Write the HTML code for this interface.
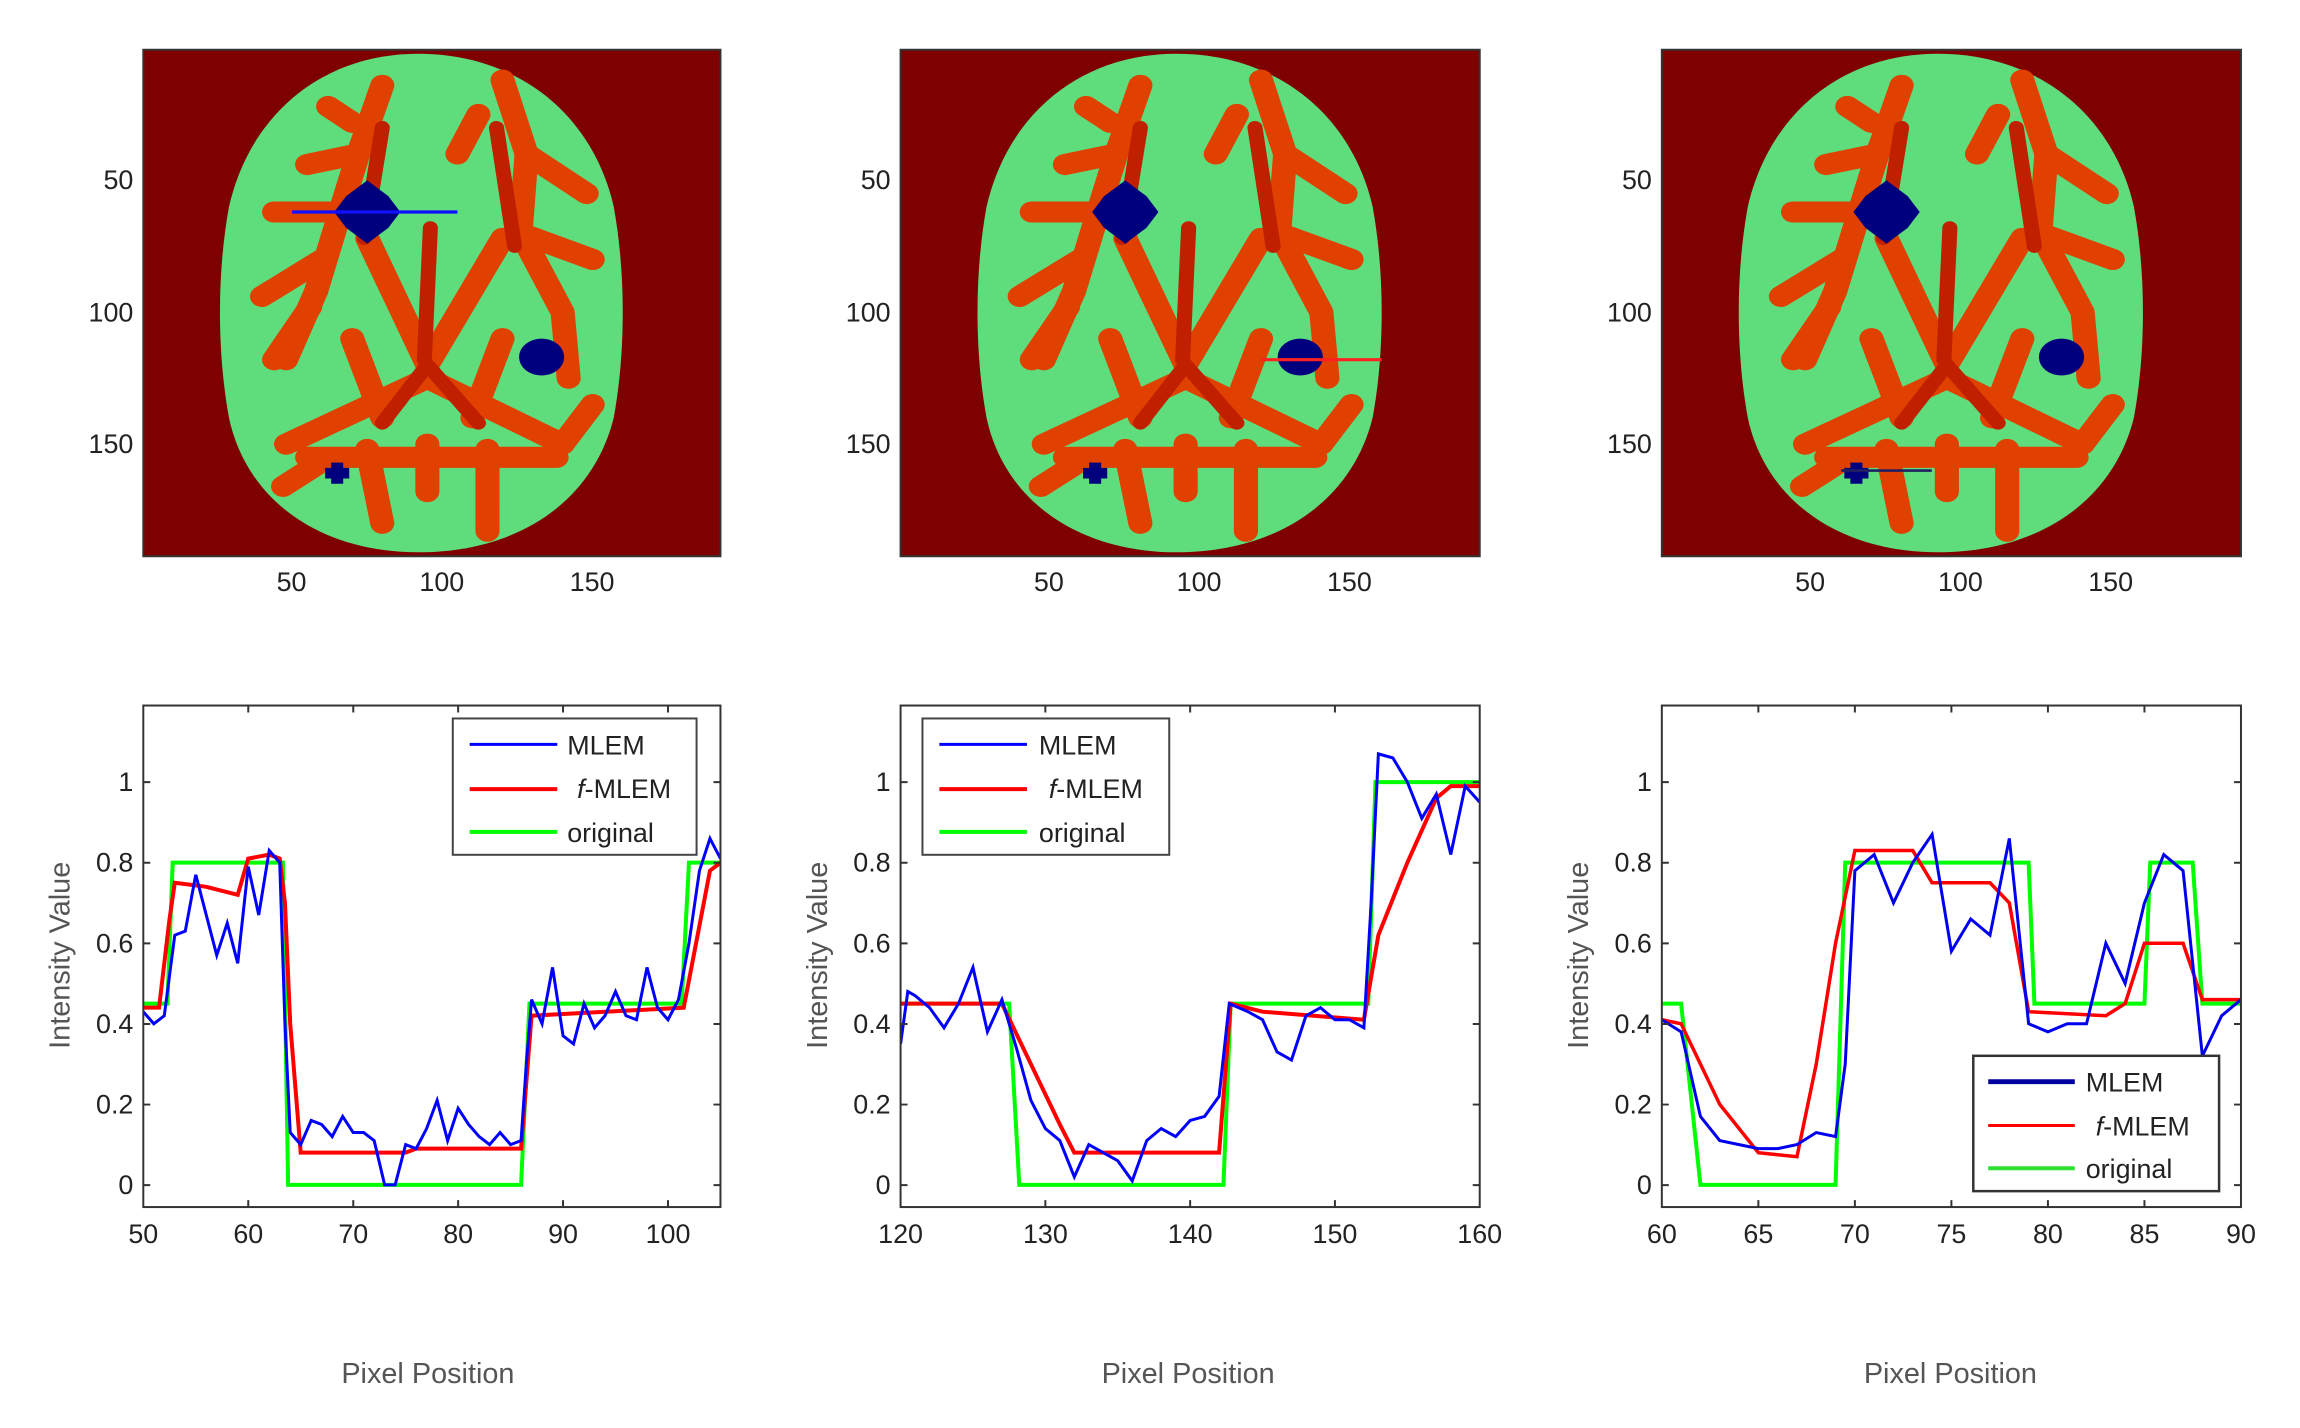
<!DOCTYPE html>
<html><head><meta charset="utf-8"><style>
html,body{margin:0;padding:0;background:#fff;}
svg text{font-family:"Liberation Sans",sans-serif;}
</style></head><body>
<svg width="2300" height="1423" viewBox="0 0 2311 1430" preserveAspectRatio="xMinYMin meet" xmlns="http://www.w3.org/2000/svg">
<defs>
<g id="brain">
  <rect x="0.5" y="0.5" width="192" height="192" fill="#7f0000"/>
  <path d="M92,2 C125,2 150,25 157,60 C161,85 161,115 157,140 C150,172 125,191 92,191 C60,191 35,172 29,140 C25,115 25,85 29,60 C36,25 60,2 92,2 Z" fill="#5fdc7c"/>
  <g fill="none" stroke="#e04000" stroke-width="8" stroke-linejoin="round" stroke-linecap="round">
    <path d="M80,14 L72,40 L66,62 L58,92 L48,118"/>
    <path d="M72,40 L55,44 M66,62 L44,62 M60,80 L40,94 M56,98 L44,118 M70,28 L62,22"/>
    <path d="M75,72 L95,120 L120,72"/>
    <path d="M120,12 L128,40 L126,70 L140,100 L142,125"/>
    <path d="M128,40 L148,55 M126,70 L150,80 M112,25 L105,40"/>
    <path d="M48,150 L95,125 L140,150 M55,155 L138,155"/>
    <path d="M75,152 L80,180 M115,152 L115,183 M140,150 L150,135 M58,158 L47,166 M95,150 L95,168"/>
    <path d="M70,110 L80,140 M120,110 L110,140"/>
  </g>
  <g fill="none" stroke="#c02000" stroke-width="5" stroke-linecap="round">
    <path d="M96,68 L94,118"/>
    <path d="M80,30 L74,72 M118,30 L124,75"/>
    <path d="M95,120 L80,142 M95,120 L112,142"/>
  </g>
  <path d="M75,50 L82,56 L86,62 L82,68 L75,74 L68,68 L64,62 L68,56 Z" fill="#00007f"/>
  <circle cx="75" cy="62" r="9" fill="#00007f"/>
  <ellipse cx="133" cy="117" rx="7.5" ry="7" fill="#00007f"/>
  <path d="M63,157 L67,157 L67,159 L69,159 L69,163 L67,163 L67,165 L63,165 L63,163 L61,163 L61,159 L63,159 Z" fill="#00007f"/>
</g>
</defs>

<svg x="144" y="50" width="580" height="509" viewBox="0.5 0.5 192 192" preserveAspectRatio="none">
  <use href="#brain"/>
  <line x1="50" y1="62" x2="105" y2="62" stroke="#1010ff" stroke-width="1.2"/>
</svg>
<svg x="905" y="50" width="582" height="509" viewBox="0.5 0.5 192 192" preserveAspectRatio="none">
  <use href="#brain"/>
  <line x1="120" y1="118" x2="160" y2="118" stroke="#ff2020" stroke-width="1.2"/>
</svg>
<svg x="1670" y="50" width="582" height="509" viewBox="0.5 0.5 192 192" preserveAspectRatio="none">
  <use href="#brain"/>
  <line x1="60" y1="160" x2="90" y2="160" stroke="#202060" stroke-width="1"/>
</svg>
<g fill="none" stroke="#333" stroke-width="2">
  <rect x="144" y="50" width="580" height="509"/>
  <rect x="905" y="50" width="582" height="509"/>
  <rect x="1670" y="50" width="582" height="509"/>
</g>
<g font-size="27" fill="#222" text-anchor="middle">
  <text x="293" y="594">50</text><text x="444" y="594">100</text><text x="595" y="594">150</text>
  <text x="1054" y="594">50</text><text x="1205" y="594">100</text><text x="1356" y="594">150</text>
  <text x="1819" y="594">50</text><text x="1970" y="594">100</text><text x="2121" y="594">150</text>
</g>
<g font-size="27" fill="#222" text-anchor="end">
  <text x="134" y="190">50</text><text x="134" y="323">100</text><text x="134" y="455">150</text>
  <text x="895" y="190">50</text><text x="895" y="323">100</text><text x="895" y="455">150</text>
  <text x="1660" y="190">50</text><text x="1660" y="323">100</text><text x="1660" y="455">150</text>
</g>

<svg x="144" y="709" width="580" height="504" viewBox="50 -1.19 55 1.245" preserveAspectRatio="none">
  <polyline fill="none" vector-effect="non-scaling-stroke" stroke="#00ff00" stroke-width="4" points="50,-0.45 52.3,-0.45 52.8,-0.8 63.3,-0.8 63.8,0 86,0 86.8,-0.45 101.3,-0.45 102,-0.8 105,-0.8"/>
  <polyline fill="none" vector-effect="non-scaling-stroke" stroke="#ff0000" stroke-width="4" points="50,-0.44 51.5,-0.44 52.5,-0.66 53,-0.75 56,-0.74 59,-0.72 60,-0.81 62,-0.82 63,-0.81 63.5,-0.7 64,-0.4 65,-0.08 75,-0.08 76,-0.09 86,-0.09 87,-0.42 101.5,-0.44 104,-0.78 105,-0.8"/>
  <polyline fill="none" vector-effect="non-scaling-stroke" stroke="#0000ff" stroke-width="3" points="50,-0.43 51,-0.4 52,-0.42 53,-0.62 54,-0.63 55,-0.77 56,-0.67 57,-0.57 58,-0.65 59,-0.55 60,-0.79 61,-0.67 62,-0.83 63,-0.8 63.5,-0.4 64,-0.13 65,-0.1 66,-0.16 67,-0.15 68,-0.12 69,-0.17 70,-0.13 71,-0.13 72,-0.11 73,0 74,0 75,-0.1 76,-0.09 77,-0.14 78,-0.21 79,-0.11 80,-0.19 81,-0.15 82,-0.12 83,-0.1 84,-0.13 85,-0.1 86,-0.11 86.5,-0.3 87,-0.46 88,-0.4 89,-0.54 90,-0.37 91,-0.35 92,-0.45 93,-0.39 94,-0.42 95,-0.48 96,-0.42 97,-0.41 98,-0.54 99,-0.44 100,-0.41 101,-0.46 102,-0.6 103,-0.78 104,-0.86 105,-0.81"/>
</svg>
<svg x="905" y="709" width="582" height="504" viewBox="120 -1.19 40 1.245" preserveAspectRatio="none">
  <polyline fill="none" vector-effect="non-scaling-stroke" stroke="#00ff00" stroke-width="4" points="120,-0.45 127.5,-0.45 128.2,0 142.3,0 142.8,-0.45 152.3,-0.45 152.8,-1 160,-1"/>
  <polyline fill="none" vector-effect="non-scaling-stroke" stroke="#ff0000" stroke-width="4" points="120,-0.45 127,-0.45 129,-0.3 131,-0.15 132,-0.08 142,-0.08 142.8,-0.45 145,-0.43 152,-0.41 153,-0.62 155,-0.8 157,-0.96 158,-0.99 160,-0.99"/>
  <polyline fill="none" vector-effect="non-scaling-stroke" stroke="#0000ff" stroke-width="3" points="120,-0.35 120.5,-0.48 121,-0.47 122,-0.44 123,-0.39 124,-0.45 125,-0.54 126,-0.38 127,-0.46 128,-0.34 129,-0.21 130,-0.14 131,-0.11 132,-0.02 133,-0.1 134,-0.08 135,-0.06 136,-0.01 137,-0.11 138,-0.14 139,-0.12 140,-0.16 141,-0.17 142,-0.22 142.7,-0.45 144,-0.43 145,-0.41 146,-0.33 147,-0.31 148,-0.42 149,-0.44 150,-0.41 151,-0.41 152,-0.39 152.5,-0.7 153,-1.07 154,-1.06 155,-1 156,-0.91 157,-0.97 158,-0.82 159,-0.99 160,-0.95"/>
</svg>
<svg x="1670" y="709" width="582" height="504" viewBox="60 -1.19 30 1.245" preserveAspectRatio="none">
  <polyline fill="none" vector-effect="non-scaling-stroke" stroke="#00ff00" stroke-width="4" points="60,-0.45 61,-0.45 62,0 69,0 69.5,-0.8 79,-0.8 79.3,-0.45 85,-0.45 85.3,-0.8 87.5,-0.8 88,-0.45 90,-0.45"/>
  <polyline fill="none" vector-effect="non-scaling-stroke" stroke="#ff0000" stroke-width="3.5" points="60,-0.41 61,-0.4 63,-0.2 65,-0.08 67,-0.07 68,-0.3 69,-0.6 70,-0.83 73,-0.83 74,-0.75 77,-0.75 78,-0.7 79,-0.43 83,-0.42 84,-0.45 85,-0.6 87,-0.6 88,-0.46 90,-0.46"/>
  <polyline fill="none" vector-effect="non-scaling-stroke" stroke="#0000ee" stroke-width="3" points="60,-0.41 61,-0.38 62,-0.17 63,-0.11 64,-0.1 65,-0.09 66,-0.09 67,-0.1 68,-0.13 69,-0.12 69.5,-0.3 70,-0.78 71,-0.82 72,-0.7 73,-0.8 74,-0.87 75,-0.58 76,-0.66 77,-0.62 78,-0.86 79,-0.4 80,-0.38 81,-0.4 82,-0.4 83,-0.6 84,-0.5 85,-0.7 86,-0.82 87,-0.78 88,-0.32 89,-0.42 90,-0.46"/>
</svg>

<g fill="none" stroke="#333" stroke-width="2">
  <rect x="144" y="709" width="580" height="504"/>
  <rect x="905" y="709" width="582" height="504"/>
  <rect x="1670" y="709" width="582" height="504"/>
</g>
<g stroke="#333" stroke-width="2">
  <path d="M144,1191h7M144,1110h7M144,1029h7M144,948h7M144,867h7M144,786h7 M724,1191h-7M724,1110h-7M724,1029h-7M724,948h-7M724,867h-7M724,786h-7"/>
  <path d="M905,1191h7M905,1110h7M905,1029h7M905,948h7M905,867h7M905,786h7 M1487,1191h-7M1487,1110h-7M1487,1029h-7M1487,948h-7M1487,867h-7M1487,786h-7"/>
  <path d="M1670,1191h7M1670,1110h7M1670,1029h7M1670,948h7M1670,867h7M1670,786h7 M2252,1191h-7M2252,1110h-7M2252,1029h-7M2252,948h-7M2252,867h-7M2252,786h-7"/>
  <path d="M249.5,1213v-7M355,1213v-7M460.4,1213v-7M565.8,1213v-7M671.3,1213v-7 M249.5,709v7M355,709v7M460.4,709v7M565.8,709v7M671.3,709v7"/>
  <path d="M1050.5,1213v-7M1196,1213v-7M1341.5,1213v-7 M1050.5,709v7M1196,709v7M1341.5,709v7"/>
  <path d="M1767,1213v-7M1864,1213v-7M1961,1213v-7M2058,1213v-7M2155,1213v-7 M1767,709v7M1864,709v7M1961,709v7M2058,709v7M2155,709v7"/>
</g>
<g font-size="27" fill="#222" text-anchor="end">
  <text x="134" y="1200">0</text><text x="134" y="1119">0.2</text><text x="134" y="1038">0.4</text><text x="134" y="957">0.6</text><text x="134" y="876">0.8</text><text x="134" y="795">1</text>
  <text x="895" y="1200">0</text><text x="895" y="1119">0.2</text><text x="895" y="1038">0.4</text><text x="895" y="957">0.6</text><text x="895" y="876">0.8</text><text x="895" y="795">1</text>
  <text x="1660" y="1200">0</text><text x="1660" y="1119">0.2</text><text x="1660" y="1038">0.4</text><text x="1660" y="957">0.6</text><text x="1660" y="876">0.8</text><text x="1660" y="795">1</text>
</g>
<g font-size="27" fill="#222" text-anchor="middle">
  <text x="144" y="1249">50</text><text x="249.5" y="1249">60</text><text x="355" y="1249">70</text><text x="460.4" y="1249">80</text><text x="565.8" y="1249">90</text><text x="671.3" y="1249">100</text>
  <text x="905" y="1249">120</text><text x="1050.5" y="1249">130</text><text x="1196" y="1249">140</text><text x="1341.5" y="1249">150</text><text x="1487" y="1249">160</text>
  <text x="1670" y="1249">60</text><text x="1767" y="1249">65</text><text x="1864" y="1249">70</text><text x="1961" y="1249">75</text><text x="2058" y="1249">80</text><text x="2155" y="1249">85</text><text x="2252" y="1249">90</text>
</g>
<g font-size="29" fill="#555" text-anchor="middle">
  <text x="430" y="1390">Pixel Position</text>
  <text x="1194" y="1390">Pixel Position</text>
  <text x="1960" y="1390">Pixel Position</text>
  <text transform="translate(70,960) rotate(-90)">Intensity Value</text>
  <text transform="translate(831,960) rotate(-90)">Intensity Value</text>
  <text transform="translate(1596,960) rotate(-90)">Intensity Value</text>
</g>

<g font-size="27" fill="#222">
  <rect x="455" y="722" width="245" height="137" fill="#fff" stroke="#444" stroke-width="2"/>
  <line x1="472" y1="748" x2="560" y2="748" stroke="#0000ff" stroke-width="3"/>
  <line x1="472" y1="793" x2="560" y2="793" stroke="#ff0000" stroke-width="4"/>
  <line x1="472" y1="836" x2="560" y2="836" stroke="#00ff00" stroke-width="4"/>
  <text x="570" y="758">MLEM</text><text x="580" y="802"><tspan font-style="italic">f</tspan>-MLEM</text><text x="570" y="846">original</text>

  <rect x="927" y="722" width="248" height="137" fill="#fff" stroke="#444" stroke-width="2"/>
  <line x1="944" y1="748" x2="1032" y2="748" stroke="#0000ff" stroke-width="3"/>
  <line x1="944" y1="793" x2="1032" y2="793" stroke="#ff0000" stroke-width="4"/>
  <line x1="944" y1="836" x2="1032" y2="836" stroke="#00ff00" stroke-width="4"/>
  <text x="1044" y="758">MLEM</text><text x="1054" y="802"><tspan font-style="italic">f</tspan>-MLEM</text><text x="1044" y="846">original</text>

  <rect x="1983" y="1061" width="247" height="136" fill="#fff" stroke="#333" stroke-width="2.5"/>
  <line x1="1998" y1="1087" x2="2085" y2="1087" stroke="#0000a0" stroke-width="5"/>
  <line x1="1998" y1="1131" x2="2085" y2="1131" stroke="#ff0000" stroke-width="3"/>
  <line x1="1998" y1="1174" x2="2085" y2="1174" stroke="#30e030" stroke-width="4"/>
  <text x="2096" y="1097">MLEM</text><text x="2106" y="1141"><tspan font-style="italic">f</tspan>-MLEM</text><text x="2096" y="1184">original</text>
</g>
</svg>
</body></html>
